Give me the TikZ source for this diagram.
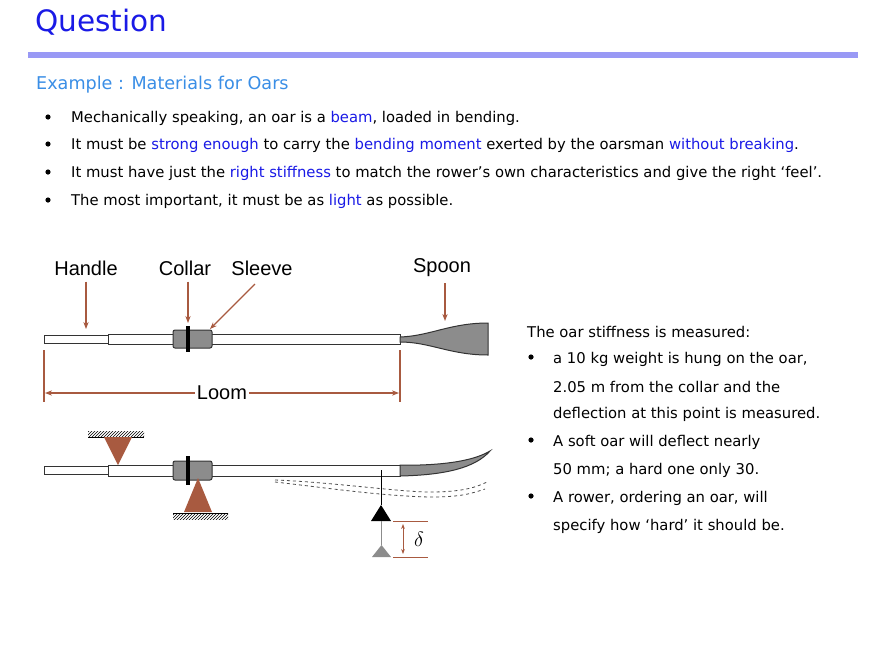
\documentclass[tikz,border=0pt]{standalone}
\usepackage{fontspec}
\setmainfont{DejaVu Sans}
\newfontfamily\lblfont{Liberation Sans}
\usetikzlibrary{patterns,arrows.meta}
\definecolor{ttl}{HTML}{1A1AE6}
\definecolor{bar}{HTML}{9999F5}
\definecolor{sub}{HTML}{3A8EE6}
\definecolor{hl}{HTML}{1A1AE6}
\definecolor{br}{HTML}{A85A40}
\definecolor{gr}{HTML}{8C8C8C}
\tikzset{
 body/.style={font=\fontsize{14.8}{16}\selectfont,anchor=west,inner sep=0pt},
 lbl/.style={font=\lblfont\fontsize{20}{22}\selectfont,inner sep=0pt},
 ptr/.style={br,line width=1.3pt,-{Stealth[length=7pt]}},
 oarline/.style={draw=black!80,fill=white,line width=1pt},
 gnd/.style={pattern=north east lines,draw=none},
}
\newcommand{\hl}[1]{\textcolor{hl}{#1}}
\begin{document}
\begin{tikzpicture}[x=1pt,y=-1pt]
\useasboundingbox (0,0) rectangle (890,664);
\fill[white] (0,0) rectangle (890,664);
\node[anchor=west,inner sep=0pt,text=ttl,font=\fontsize{29.5}{32}\selectfont] (title) at (35,22) {Question};
\fill[bar] (28,52) rectangle (858,58);
\node[anchor=west,inner sep=0pt,text=sub,font=\fontsize{17.6}{20}\selectfont] (subt) at (36,85) {Example : Materials for Oars};
\foreach \yy in {118,145,173,201} \fill (48,\yy-1) circle (2.6);
\node[body] (b1) at (71,118) {Mechanically speaking, an oar is a \hl{beam}, loaded in bending.};
\node[body] (b2) at (71,145) {It must be \hl{strong enough} to carry the \hl{bending moment} exerted by the oarsman \hl{without breaking}.};
\node[body] (b3) at (71,173) {It must have just the \hl{right stiffness} to match the rower's own characteristics and give the right `feel'.};
\node[body] (b4) at (71,201) {The most important, it must be as \hl{light} as possible.};
% right text
\node[body] (r0) at (527,332) {The oar stiffness is measured:};
\foreach \yy in {359,442,498} \fill (531,\yy-2) circle (2.6);
\node[body] (r1) at (553,359) {a 10 kg weight is hung on the oar,};
\node[body] (r2) at (553,387) {2.05 m from the collar and the};
\node[body] (r3) at (553,414) {deflection at this point is measured.};
\node[body] (r4) at (553,442) {A soft oar will deflect nearly};
\node[body] (r5) at (553,470) {50 mm; a hard one only 30.};
\node[body] (r6) at (553,498) {A rower, ordering an oar, will};
\node[body] (r7) at (553,526) {specify how `hard' it should be.};
% top oar
\node[lbl] (lh) at (86,268) {Handle};
\node[lbl] (lc) at (185,268) {Collar};
\node[lbl] (ls) at (262,268) {Sleeve};
\node[lbl] (lsp) at (442,268) {Spoon};
\draw[oarline] (44,335) rectangle (108,343);
\draw[oarline] (108,334) rectangle (400,344);
\draw[draw=black!80,fill=gr,line width=1pt] (400,337) .. controls (430,336) and (450,323) .. (488,323) -- (488,355) .. controls (450,355) and (430,342) .. (400,342) -- cycle;
\draw[draw=black!80,fill=gr,rounded corners=2pt,line width=1pt] (173,330) rectangle (212,348);
\fill[black] (185.5,326) rectangle (189.5,352);
\coordinate (ph) at (86,329); \coordinate (pc) at (188,323);
\coordinate (ps) at (210,329); \coordinate (psp) at (445,321);
\draw[ptr] (lh.south)++(0,6) -- (ph);
\draw[ptr] (lc.south)++(3,6) -- (pc);
\draw[ptr] (255,284) -- (ps);
\draw[ptr] (lsp.south)++(3,6) -- (psp);
\draw[br,line width=1.3pt] (44,350) -- (44,402); \draw[br,line width=1.3pt] (400,350) -- (400,402);
\node[lbl] (loom) at (222,393) {Loom};
\coordinate (la) at (45,393); \coordinate (lb) at (399,393);
\draw[ptr] (loom.west)++(-2,0) -- (la);
\draw[ptr] (loom.east)++(2,0) -- (lb);
% bottom oar
\draw[dashed,thick,black!70] (275,480) .. controls (330,482) and (400,492) .. (430,492) .. controls (460,492) and (475,488) .. (487,482);
\draw[dashed,thick,black!70] (275,482) .. controls (320,487) and (380,496) .. (430,497) .. controls (460,497) and (470,494) .. (485,489);
\draw[oarline] (44,466) rectangle (108,474);
\draw[oarline] (108,465) rectangle (400,476);
\draw[draw=black!80,fill=gr,line width=1pt] (400,465) -- (420,465) .. controls (450,464) and (475,460) .. (490,451) .. controls (475,468) and (445,475) .. (400,476) -- cycle;
\draw[draw=black!80,fill=gr,rounded corners=2pt,line width=1pt] (173,461) rectangle (212,480);
\fill[black] (185.5,456) rectangle (189.5,485);
% supports
\fill[gnd] (88,431) rectangle (144,437); \draw[thick] (88,437) -- (144,437);
\fill[br] (104,437) -- (132,437) -- (118,465) -- cycle;
\fill[br] (184,512) -- (212,512) -- (198,478) -- cycle;
\draw[thick] (173,513) -- (228,513); \fill[gnd] (173,513) rectangle (228,519);
% weight
\draw (381,470) -- (381,505);
\fill[black] (371,521) -- (391,521) -- (381,505) -- cycle;
\draw[gr] (381,521) -- (381,545);
\fill[gr] (372,557) -- (391,557) -- (381.5,545) -- cycle;
\draw[br,thick] (393,521) -- (428,521); \draw[br,thick] (393,557) -- (428,557);
\draw[br,thick,{Stealth[length=5pt]}-{Stealth[length=5pt]}] (403,524) -- (403,554);
\node[lbl,font=\fontsize{20}{22}\selectfont] (dl) at (419,539) {$\delta$};
\end{tikzpicture}
\end{document}
